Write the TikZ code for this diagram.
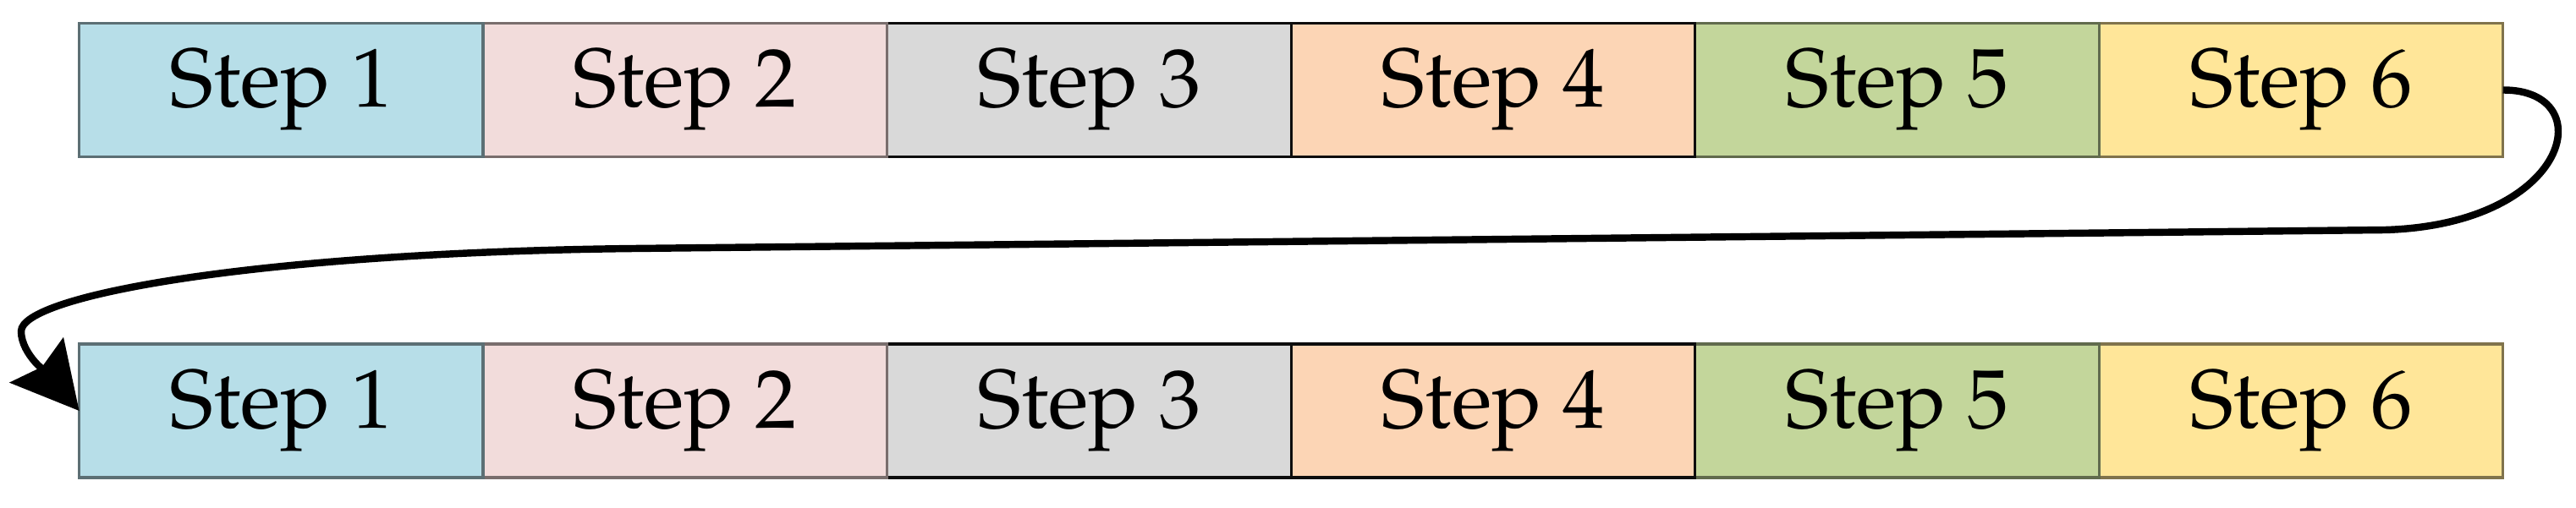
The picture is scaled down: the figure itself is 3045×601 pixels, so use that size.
\documentclass[tikz,border=0pt]{standalone}
\usepackage[T1]{fontenc}
\usepackage{mathpazo}
\usepackage{tikz}
\usetikzlibrary{arrows.meta}
\usetikzlibrary{positioning}

\definecolor{stepblue}{HTML}{B7DEE8}
\definecolor{steppink}{HTML}{F2DCDB}
\definecolor{stepgray}{HTML}{D9D9D9}
\definecolor{steppeach}{HTML}{FCD5B5}
\definecolor{stepgreen}{HTML}{C3D69B}
\definecolor{stepyellow}{HTML}{FFE699}

\begin{document}
\begin{tikzpicture}[x = 0.01cm, y = -0.01cm, stepbox/.style={rectangle, line width = 0.95pt, minimum width = 4.7725cm, minimum height = 1.58cm, inner sep = 0pt, outer sep = 0pt, font=\fontsize{28}{34}\selectfont}, loopback/.style={line width = 2.4pt, -{Stealth[length = 0.78cm, width = 0.82cm, inset = 0.1cm]}}]
	\useasboundingbox (0,0) rectangle (3045,601);
	% first pass, drawn from the right
	\node[stepbox, fill = stepyellow, draw = stepyellow!50!black] (t6) at (2720,106.5) {Step 6};
	\node[stepbox, fill = stepgreen, draw = stepgreen!50!black, left = 0pt of t6] (t5) {Step 5};
	\node[stepbox, fill = steppeach, draw = black!95, left = 0pt of t5] (t4) {Step 4};
	\node[stepbox, fill = stepgray, draw = black!95, left = 0pt of t4] (t3) {Step 3};
	\node[stepbox, fill = steppink, draw = steppink!50!black, left = 0pt of t3] (t2) {Step 2};
	\node[stepbox, fill = stepblue, draw = stepblue!50!black, left = 0pt of t2] (t1) {Step 1};
	% second pass
	\node[stepbox, fill = stepyellow, draw = stepyellow!50!black, below = 2.213cm of t6] (b6) {Step 6};
	\node[stepbox, fill = stepgreen, draw = stepgreen!50!black, left = 0pt of b6] (b5) {Step 5};
	\node[stepbox, fill = steppeach, draw = black!95, left = 0pt of b5] (b4) {Step 4};
	\node[stepbox, fill = stepgray, draw = black!95, left = 0pt of b4] (b3) {Step 3};
	\node[stepbox, fill = steppink, draw = steppink!50!black, left = 0pt of b3] (b2) {Step 2};
	\node[stepbox, fill = stepblue, draw = stepblue!50!black, left = 0pt of b2] (b1) {Step 1};
	% loop back
	\draw[loopback] (t6.east) .. controls (3075,106) and (3040,265) .. (2820,272)
		-- (750,294) .. controls (300,299) and (25,350) .. (25,392)
		.. controls (25,420) and (60,446) .. (b1.west);
\end{tikzpicture}
\end{document}
